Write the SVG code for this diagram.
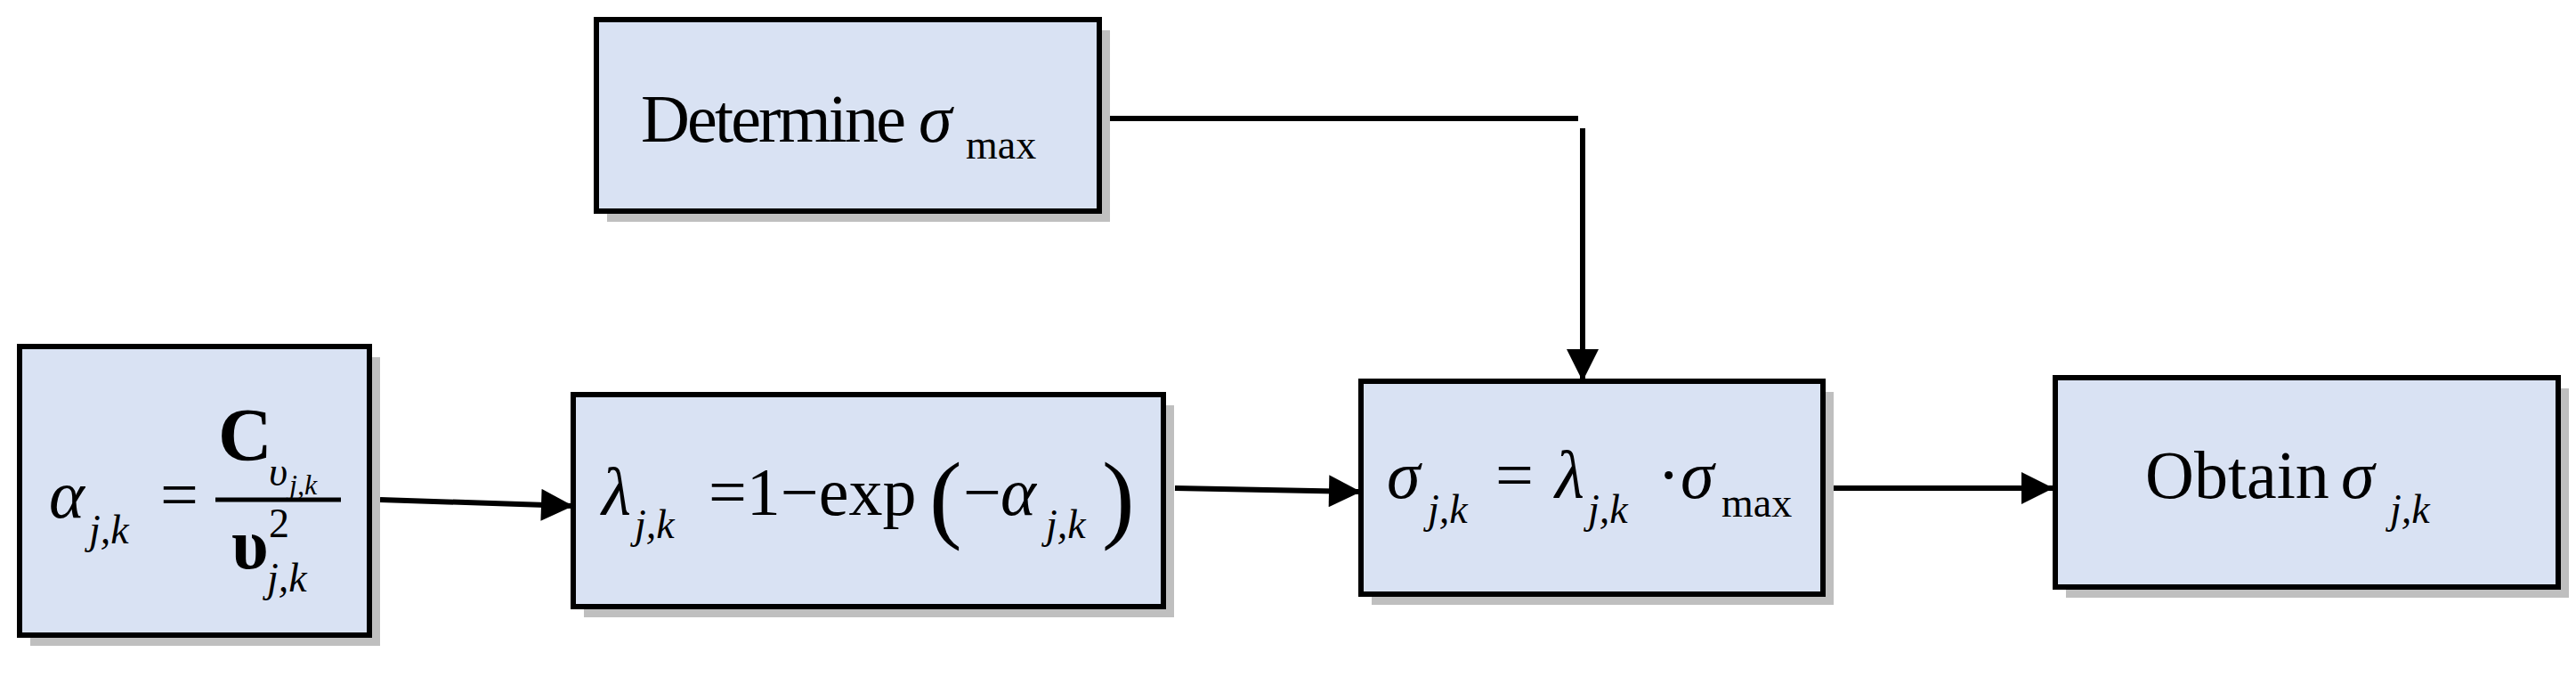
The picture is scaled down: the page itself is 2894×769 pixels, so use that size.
<svg xmlns="http://www.w3.org/2000/svg" width="2894" height="769" viewBox="0 0 2894 769">
<style>
.box{fill:#d9e2f3;stroke:#000;stroke-width:6}
.sh{fill:#bfbfbf}
text{font-family:"Liberation Serif","Times New Roman",serif;fill:#000}
.t{font-size:76px}
.i{font-style:italic}
.s{font-size:46px;font-style:italic}
.ss{font-size:32px;font-style:italic}
.c{stroke:#000;stroke-width:6;fill:none}
</style>
<defs>
<marker id="ah" viewBox="0 0 10 10" refX="10" refY="5" markerWidth="7" markerHeight="6" markerUnits="strokeWidth" orient="auto"><path d="M0,0L10,5L0,10z" fill="#000"/></marker>
</defs>
<g id="connectors">
<polyline class="c" points="1247,133 1773,133"/>
<line class="c" x1="1778" y1="144" x2="1778" y2="428" marker-end="url(#ah)"/>
<line class="c" x1="427" y1="561" x2="644" y2="568" marker-end="url(#ah)"/>
<line class="c" x1="1320" y1="548" x2="1529" y2="552" marker-end="url(#ah)"/>
<line class="c" x1="2051" y1="548" x2="2307" y2="548" marker-end="url(#ah)"/>
</g>
<g id="determine">
<rect class="sh" x="682" y="34" width="565" height="215"/>
<rect class="box" x="670" y="22" width="565" height="215"/>
<text class="t" x="720" y="159" textLength="298">Determine</text>
<text class="t i" x="1032" y="159">σ</text>
<text x="1085" y="178" font-size="46">max</text>
</g>
<g id="alpha">
<rect class="sh" x="34" y="401" width="393" height="324"/>
<rect class="box" x="22" y="389" width="393" height="324"/>
<text class="t i" x="55" y="581">α</text>
<text class="s" x="100" y="610">j,k</text>
<text class="t" x="180" y="581">=</text>
<line x1="242" y1="561" x2="383" y2="561" stroke="#000" stroke-width="5"/>
<text x="245" y="517" font-size="84" font-weight="bold">C</text>
<text class="s" x="302" y="545">υ</text>
<text class="ss" x="325" y="555">j,k</text>
<text x="260" y="638" font-size="80" font-weight="bold">υ</text>
<text x="302" y="603" font-size="46">2</text>
<text class="s" x="300" y="664">j,k</text>
</g>
<g id="lambda">
<rect class="sh" x="656" y="455" width="663" height="238"/>
<rect class="box" x="644" y="443" width="663" height="238"/>
<text class="t i" x="676" y="578">λ</text>
<text class="s" x="713" y="604">j,k</text>
<text class="t" x="796" y="578">=1−exp</text>
<text x="1044" y="595" font-size="110">(</text>
<text class="t" x="1082" y="578">−</text>
<text class="t i" x="1124" y="578">α</text>
<text class="s" x="1175" y="604">j,k</text>
<text x="1238" y="595" font-size="110">)</text>
</g>
<g id="sigma">
<rect class="sh" x="1541" y="440" width="519" height="239"/>
<rect class="box" x="1529" y="428" width="519" height="239"/>
<text class="t i" x="1558" y="559">σ</text>
<text class="s" x="1604" y="587">j,k</text>
<text class="t" x="1680" y="559">=</text>
<text class="t i" x="1747" y="559">λ</text>
<text class="s" x="1784" y="587">j,k</text>
<text class="t" x="1862" y="559">·</text>
<text class="t i" x="1888" y="559">σ</text>
<text x="1934" y="580" font-size="46">max</text>
</g>
<g id="obtain">
<rect class="sh" x="2321" y="436" width="565" height="235"/>
<rect class="box" x="2309" y="424" width="565" height="235"/>
<text class="t" x="2410" y="559">Obtain</text>
<text class="t i" x="2630" y="559">σ</text>
<text class="s" x="2685" y="587">j,k</text>
</g>
</svg>
